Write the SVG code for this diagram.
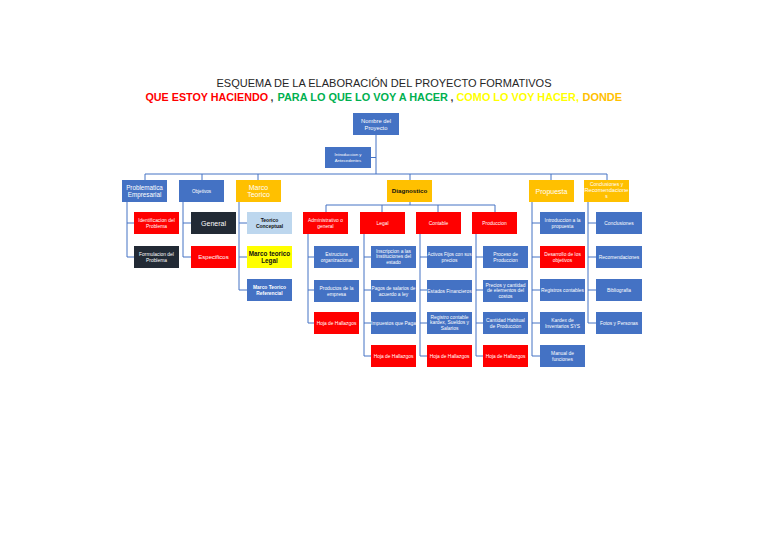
<svg xmlns="http://www.w3.org/2000/svg" width="768" height="543" viewBox="0 0 768 543">
<style>
.b{fill:#4472C4}.r{fill:#FF0000}.o{fill:#FFC000}.d{fill:#222A35}.lb{fill:#BDD7EE}.y{fill:#FFFF00}
text{font-family:"Liberation Sans",Arial,sans-serif;text-anchor:middle}
.t{fill:#fff;font-size:4.9px}
.tk{fill:#111;font-weight:bold}
.h{font-size:10.6px;font-weight:bold;text-anchor:start}
.c path{fill:none;stroke:#4472C4;stroke-width:1}
</style>
<rect width="768" height="543" fill="#fff"/>
<text x="384" y="87" font-size="11.3" fill="#262626" textLength="335" lengthAdjust="spacingAndGlyphs">ESQUEMA DE LA ELABORACIÓN DEL PROYECTO FORMATIVOS</text>
<text class="h" x="145.5" y="100.5" fill="#FF0000" textLength="122.5" lengthAdjust="spacingAndGlyphs">QUE ESTOY HACIENDO</text>
<text class="h" x="270.5" y="100.5" fill="#404040">,</text>
<text class="h" x="277.5" y="100.5" fill="#00B050" textLength="170.5" lengthAdjust="spacingAndGlyphs">PARA LO QUE LO VOY A HACER</text>
<text class="h" x="450.5" y="100.5" fill="#404040">,</text>
<text class="h" x="456.5" y="100.5" fill="#FFFF00" textLength="122.5" lengthAdjust="spacingAndGlyphs">COMO LO VOY HACER,</text>
<text class="h" x="582.5" y="100.5" fill="#FFC000" textLength="39.5" lengthAdjust="spacingAndGlyphs">DONDE</text>

<g id="connectors" class="c">
<path d="M376 135V174M371 157.5H376M145 174H607M145 174V180M202 174V180M258 174V180M410 174V180M551 174V180M607 174V180"/>
<path d="M127 202V257M127 223H134M127 257H134"/>
<path d="M183 202V257M183 223H191M183 257H191"/>
<path d="M239 202V290M239 223H247M239 257H247M239 290H247"/>
<path d="M410 202V205M326 205H495M326 205V212M382 205V212M438 205V212M495 205V212"/>
<path d="M308 234V323M308 257H314M308 290H314M308 323H314"/>
<path d="M364 234V356M364 257H371M364 290H371M364 323H371M364 356H371"/>
<path d="M420 234V356M420 257H427M420 290H427M420 323H427M420 356H427"/>
<path d="M476 234V356M476 257H483M476 290H483M476 323H483M476 356H483"/>
<path d="M532 202V356M532 223H540M532 257H540M532 290H540M532 323H540M532 356H540"/>
<path d="M588 202V323M588 223H596M588 257H596M588 290H596M588 323H596"/>
</g>

<g id="nombre"><rect class="b" x="353" y="113" width="46" height="22"/><text class="t" x="376" y="122.5" style="font-size:5.8px">Nombre del</text><text class="t" x="376" y="129.5" style="font-size:5.8px">Proyecto</text></g>
<g id="intro"><rect class="b" x="325" y="147" width="46" height="21"/><text class="t" x="348" y="156" style="font-size:4.3px">Introduccion y</text><text class="t" x="348" y="162" style="font-size:4.3px">Antecedentes</text></g>

<g id="problematica"><rect class="b" x="122" y="180" width="45" height="22"/><text class="t" x="144.5" y="189.5" style="font-size:6.3px">Problematica</text><text class="t" x="144.5" y="196.5" style="font-size:6.3px">Empresarial</text></g>
<g id="identificacion"><rect class="r" x="134" y="212" width="45" height="22"/><text class="t" x="156.5" y="221.5">Identificacion del</text><text class="t" x="156.5" y="228">Problema</text></g>
<g id="formulacion"><rect class="d" x="134" y="246" width="45" height="22"/><text class="t" x="156.5" y="255.5">Formulacion del</text><text class="t" x="156.5" y="262">Problema</text></g>

<g id="objetivos"><rect class="b" x="179" y="180" width="45" height="22"/><text class="t" x="201.5" y="192.5" style="font-size:4.6px">Objetivos</text></g>
<g id="general"><rect class="d" x="191" y="212" width="45" height="22"/><text class="t" x="213.5" y="225.5" style="font-size:7px">General</text></g>
<g id="especificos"><rect class="r" x="191" y="246" width="45" height="22"/><text class="t" x="213.5" y="259" style="font-size:6px">Especificos</text></g>

<g id="marco"><rect class="o" x="236" y="180" width="45" height="22"/><text class="t" x="258.5" y="189.5" style="font-size:7px">Marco</text><text class="t" x="258.5" y="197" style="font-size:7px">Teorico</text></g>
<g id="conceptual"><rect class="lb" x="247" y="212" width="45" height="22"/><text class="tk" x="269.5" y="221.5" style="font-size:5px">Teorico</text><text class="tk" x="269.5" y="228" style="font-size:5px">Conceptual</text></g>
<g id="legal-marco"><rect class="y" x="247" y="246" width="45" height="22"/><text class="tk" x="269.5" y="255.5" style="font-size:6.3px">Marco teorico</text><text class="tk" x="269.5" y="262.5" style="font-size:6.3px">Legal</text></g>
<g id="referencial"><rect class="b" x="247" y="279" width="45" height="22"/><text class="t" x="269.5" y="288.5" style="font-weight:bold">Marco Teorico</text><text class="t" x="269.5" y="295" style="font-weight:bold">Referencial</text></g>

<g id="diagnostico"><rect class="o" x="387" y="180" width="45" height="22"/><text class="tk" x="409.5" y="193" style="font-size:6.2px">Diagnostico</text></g>

<g id="admin"><rect class="r" x="303" y="212" width="45" height="22"/><text class="t" x="325.5" y="221.5">Administrativo o</text><text class="t" x="325.5" y="228">general</text></g>
<g id="estructura"><rect class="b" x="314" y="246" width="45" height="22"/><text class="t" x="336.5" y="255.5">Estructura</text><text class="t" x="336.5" y="262">organizacional</text></g>
<g id="productos"><rect class="b" x="314" y="280" width="45" height="22"/><text class="t" x="336.5" y="289.5">Productos de la</text><text class="t" x="336.5" y="296">empresa</text></g>
<g id="hoja1"><rect class="r" x="314" y="312" width="45" height="22"/><text class="t" x="336.5" y="324.5">Hoja de Hallazgos</text></g>

<g id="legal"><rect class="r" x="360" y="212" width="45" height="22"/><text class="t" x="382.5" y="224.5">Legal</text></g>
<g id="inscripcion"><rect class="b" x="371" y="246" width="45" height="22"/><text class="t" x="393.5" y="252.5">Inscripcion a las</text><text class="t" x="393.5" y="258">Instituciones del</text><text class="t" x="393.5" y="263.5">estado</text></g>
<g id="pagos"><rect class="b" x="371" y="280" width="45" height="22"/><text class="t" x="393.5" y="289.5" textLength="44" lengthAdjust="spacingAndGlyphs">Pagos de salarios de</text><text class="t" x="393.5" y="296">acuerdo a ley</text></g>
<g id="impuestos"><rect class="b" x="371" y="312" width="45" height="22"/><text class="t" x="393.5" y="324.5">Impuestos que Paga</text></g>
<g id="hoja2"><rect class="r" x="371" y="345" width="45" height="22"/><text class="t" x="393.5" y="357.5">Hoja de Hallazgos</text></g>

<g id="contable"><rect class="r" x="416" y="212" width="45" height="22"/><text class="t" x="438.5" y="224.5">Contable</text></g>
<g id="activos"><rect class="b" x="427" y="246" width="45" height="22"/><text class="t" x="449.5" y="255.5" textLength="44" lengthAdjust="spacingAndGlyphs">Activos Fijos con sus</text><text class="t" x="449.5" y="262">precios</text></g>
<g id="estados"><rect class="b" x="427" y="280" width="45" height="22"/><text class="t" x="449.5" y="292.5">Estados Financieros</text></g>
<g id="registro"><rect class="b" x="427" y="312" width="45" height="22"/><text class="t" x="449.5" y="318.5">Registro contable</text><text class="t" x="449.5" y="324">kardex, Sueldos y</text><text class="t" x="449.5" y="329.5">Salarios</text></g>
<g id="hoja3"><rect class="r" x="427" y="345" width="45" height="22"/><text class="t" x="449.5" y="357.5">Hoja de Hallazgos</text></g>

<g id="produccion"><rect class="r" x="472" y="212" width="45" height="22"/><text class="t" x="494.5" y="224.5">Produccion</text></g>
<g id="proceso"><rect class="b" x="483" y="246" width="45" height="22"/><text class="t" x="505.5" y="255.5">Proceso de</text><text class="t" x="505.5" y="262">Produccion</text></g>
<g id="precios"><rect class="b" x="483" y="280" width="45" height="22"/><text class="t" x="505.5" y="286.5">Precios y cantidad</text><text class="t" x="505.5" y="292">de elementos del</text><text class="t" x="505.5" y="297.5">costos</text></g>
<g id="cantidad"><rect class="b" x="483" y="312" width="45" height="22"/><text class="t" x="505.5" y="321.5">Cantidad Habitual</text><text class="t" x="505.5" y="328">de  Produccion</text></g>
<g id="hoja4"><rect class="r" x="483" y="345" width="45" height="22"/><text class="t" x="505.5" y="357.5">Hoja de Hallazgos</text></g>

<g id="propuesta"><rect class="o" x="529" y="180" width="45" height="22"/><text class="t" x="551.5" y="193.5" style="font-size:7px">Propuesta</text></g>
<g id="intro-prop"><rect class="b" x="540" y="212" width="45" height="22"/><text class="t" x="562.5" y="221.5">Introduccion  a la</text><text class="t" x="562.5" y="228">propuesta</text></g>
<g id="desarrollo"><rect class="r" x="540" y="246" width="45" height="22"/><text class="t" x="562.5" y="255.5">Desarrollo de los</text><text class="t" x="562.5" y="262">objetivos</text></g>
<g id="registros"><rect class="b" x="540" y="279" width="45" height="22"/><text class="t" x="562.5" y="291.5">Registros contables</text></g>
<g id="kardex"><rect class="b" x="540" y="312" width="45" height="22"/><text class="t" x="562.5" y="321.5">Kardex de</text><text class="t" x="562.5" y="328">Inventarios SYS</text></g>
<g id="manual"><rect class="b" x="540" y="345" width="45" height="22"/><text class="t" x="562.5" y="354.5">Manual de</text><text class="t" x="562.5" y="361">funciones</text></g>

<g id="conclusiones-rec"><rect class="o" x="584" y="180" width="45" height="22"/><text class="t" x="606.5" y="185.5">Conclusiones y</text><text class="t" x="606.5" y="191.5" textLength="44" lengthAdjust="spacingAndGlyphs">Recomendacione</text><text class="t" x="606.5" y="197.5">s</text></g>
<g id="conclusiones"><rect class="b" x="596" y="212" width="46" height="22"/><text class="t" x="619" y="224.5">Conclusiones</text></g>
<g id="recomendaciones"><rect class="b" x="596" y="246" width="46" height="22"/><text class="t" x="619" y="258.5">Recomendaciones</text></g>
<g id="bibliografia"><rect class="b" x="596" y="279" width="46" height="22"/><text class="t" x="619" y="291.5">Bibliografia</text></g>
<g id="fotos"><rect class="b" x="596" y="312" width="46" height="22"/><text class="t" x="619" y="324.5">Fotos y Personas</text></g>
</svg>
